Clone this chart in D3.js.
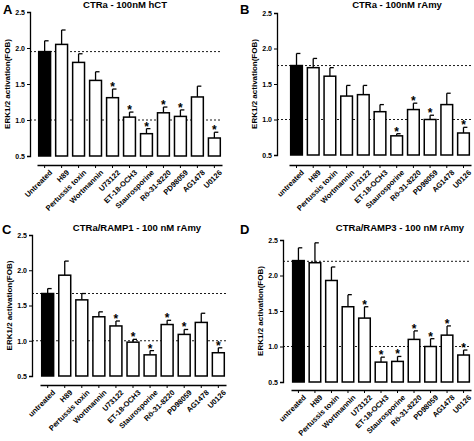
<!DOCTYPE html>
<html><head><meta charset="utf-8">
<script src="https://cdn.jsdelivr.net/npm/d3@7"></script>
<style>body{margin:0;background:#fff}text{font-family:"Liberation Sans",Arial,sans-serif}</style>
</head><body><svg id="c" width="474" height="441"></svg>
<script>
const categories = ["untreated","H89","Pertussis toxin","Wortmannin","U73122","ET-18-OCH3","Staurosporine","Rö-31-8220","PD98059","AG1478","U0126"];
const categoriesA = ["Untreated"].concat(categories.slice(1));
const valuesA = [1.95,2.05,1.80,1.55,1.31,1.04,0.81,1.10,1.05,1.32,0.75];
const errA    = [0.15,0.20,0.12,0.12,0.12,0.07,0.07,0.08,0.09,0.15,0.08];
const starA   = [0,0,0,0,1,1,1,1,1,0,1];
const valuesB = [1.76,1.73,1.61,1.33,1.35,1.11,0.77,1.14,1.00,1.21,0.81];
const errB    = [0.17,0.13,0.12,0.15,0.13,0.10,0.03,0.09,0.06,0.16,0.08];
const starB   = [0,0,0,0,0,0,1,1,1,0,1];
const valuesC = [1.67,1.93,1.58,1.34,1.21,0.98,0.80,1.23,1.09,1.26,0.83];
const errC    = [0.07,0.20,0.09,0.07,0.07,0.04,0.06,0.06,0.07,0.13,0.07];
const starC   = [0,0,0,0,1,1,1,1,1,0,1];
const valuesD = [2.21,2.18,1.93,1.56,1.40,0.78,0.79,1.10,1.00,1.16,0.88];
const errD    = [0.18,0.28,0.19,0.17,0.16,0.07,0.07,0.12,0.11,0.13,0.07];
const starD   = [0,0,0,0,1,1,1,1,1,1,1];
const yTicks = [0.5,1.0,1.5,2.0,2.5];
const panels = [
 {letter:"A",title:"CTRa - 100nM hCT",cats:categoriesA,v:valuesA,e:errA,s:starA,ref:1.95,ax:30,x0:37,x1:222,yt:12,yb:156,axy:165,lx:3,ly:14,tx:125,ty:8},
 {letter:"B",title:"CTRa - 100nM rAmy",cats:categories,v:valuesB,e:errB,s:starB,ref:1.76,ax:277,x0:289,x1:471,yt:13,yb:155,axy:165,lx:240,ly:14,tx:397,ty:8},
 {letter:"C",title:"CTRa/RAMP1  - 100 nM rAmy",cats:categories,v:valuesC,e:errC,s:starC,ref:1.67,ax:32,x0:40,x1:226,yt:235,yb:376,axy:385,lx:2,ly:234,tx:137,ty:231},
 {letter:"D",title:"CTRa/RAMP3 - 100 nM rAmy",cats:categories,v:valuesD,e:errD,s:starD,ref:2.20,ax:283,x0:291,x1:471,yt:240,yb:382,axy:390,lx:240,ly:234,tx:400,ty:231}
];
const svg = d3.select("#c");
panels.forEach(p=>{
  const g = svg.append("g");
  const y = d3.scaleLinear().domain([0.5,2.5]).range([p.yb,p.yt]);
  const x = d3.scaleBand().domain(p.cats).range([p.x0,p.x1]).paddingInner(0.3).paddingOuter(0.1);
  g.append("text").attr("x",p.lx).attr("y",p.ly).attr("font-size",13).attr("font-weight","bold").text(p.letter);
  g.append("text").attr("x",p.tx).attr("y",p.ty).attr("text-anchor","middle").attr("font-size",9.5).attr("font-weight","bold").text(p.title);
  const ya = g.append("g").attr("transform",`translate(${p.ax},0)`).call(d3.axisLeft(y).tickValues(yTicks).tickFormat(d3.format(".1f")).tickSize(3).tickPadding(2));
  ya.select(".domain").attr("stroke-width",1.3);
  ya.selectAll("text").attr("font-size",7).attr("font-weight","bold");
  g.append("text").attr("transform",`translate(${p.ax-20},${(p.yt+p.yb)/2}) rotate(-90)`).attr("text-anchor","middle").attr("font-size",8).attr("font-weight","bold").text("ERK1/2 activation(FOB)");
  [p.ref,1.0].forEach(r=>g.append("line").attr("x1",p.ax).attr("x2",p.x1).attr("y1",y(r)).attr("y2",y(r)).attr("stroke","#000").attr("stroke-dasharray","2,2").attr("stroke-width",0.9));
  const xa = g.append("g").attr("transform",`translate(0,${p.axy})`).call(d3.axisBottom(x).tickSize(3).tickSizeOuter(0));
  xa.select(".domain").attr("stroke-width",1.3);
  xa.selectAll("text").attr("font-size",7.5).attr("font-weight","bold").attr("text-anchor","end").attr("transform","translate(2,2) rotate(-45)").attr("dy","0.35em").attr("dx","0");
  p.cats.forEach((c,i)=>{
    const cx = x(c)+x.bandwidth()/2, top=y(p.v[i]), et=y(p.v[i]+p.e[i]);
    g.append("line").attr("x1",cx).attr("x2",cx).attr("y1",top).attr("y2",et).attr("stroke","#000").attr("stroke-width",1.3);
    g.append("line").attr("x1",cx).attr("x2",cx+x.bandwidth()/3).attr("y1",et).attr("y2",et).attr("stroke","#000").attr("stroke-width",1.3);
    g.append("rect").attr("x",x(c)).attr("y",top).attr("width",x.bandwidth()).attr("height",p.yb-top).attr("fill",i===0?"#000":"#fff").attr("stroke","#000").attr("stroke-width",1.5);
    if(p.s[i]) g.append("text").attr("x",cx).attr("y",et+2).attr("text-anchor","middle").attr("font-size",12).attr("font-weight","bold").text("*");
  });
});
</script></body></html>
